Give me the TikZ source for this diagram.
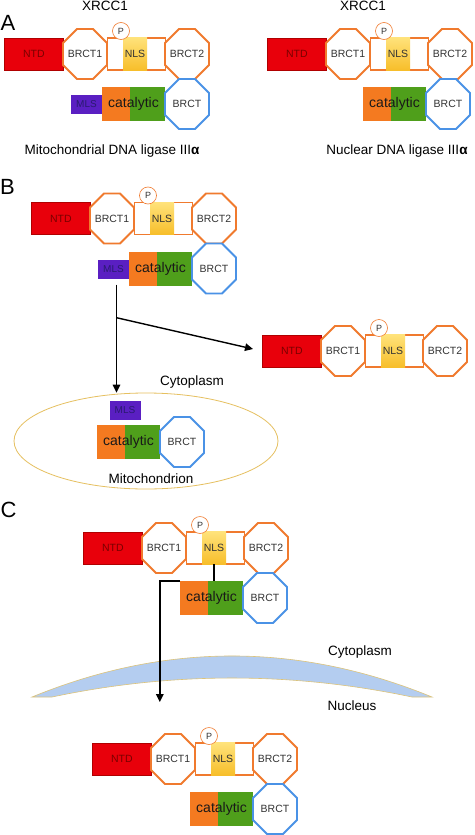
\documentclass[tikz,border=0pt]{standalone}
\usepackage{fontspec}
\setmainfont{Liberation Sans}
\usetikzlibrary{arrows.meta,shapes.geometric}
\definecolor{ntdred}{HTML}{E8000B}
\definecolor{ntdedge}{HTML}{B00000}
\definecolor{ntdtext}{HTML}{7A0000}
\definecolor{octor}{HTML}{F07A2E}
\definecolor{octbl}{HTML}{4A92E6}
\definecolor{nlsL}{HTML}{FFE27A}
\definecolor{nlsD}{HTML}{F7BE2A}
\definecolor{catO}{HTML}{F47A20}
\definecolor{catG}{HTML}{4F9F1B}
\definecolor{mlsP}{HTML}{5A1FC2}
\definecolor{mlstext}{HTML}{2A1A70}
\definecolor{mitoedge}{HTML}{E6C060}
\definecolor{membblue}{HTML}{B4CDF0}
\definecolor{membedge}{HTML}{DCC37A}
\definecolor{txtgray}{HTML}{333333}
\tikzset{
  lbl/.style={inner sep=0pt, font=\fontsize{10.5}{12}\selectfont, text=txtgray},
  biglbl/.style={inner sep=0pt, anchor=base, font=\fontsize{13.5}{15}\selectfont, text=black},
  panel/.style={inner sep=0pt, anchor=base, font=\fontsize{22}{24}\selectfont, text=black},
  ntdbox/.style={rectangle, fill=ntdred, draw=ntdedge, line width=0.8pt, minimum width=59pt, minimum height=32pt, inner sep=0pt, anchor=west, font=\fontsize{10.5}{12}\selectfont, text=ntdtext},
  linkbox/.style={rectangle, fill=white, draw=octor, line width=1.3pt, minimum width=58pt, minimum height=32pt, inner sep=0pt, anchor=west},
  nlsbox/.style={rectangle, top color=nlsL, bottom color=nlsD, minimum width=24pt, minimum height=32.5pt, inner sep=0pt, font=\fontsize{10.5}{12}\selectfont, text=txtgray},
  pcirc/.style={circle, fill=white, draw=octor, line width=0.6pt, minimum size=17pt, inner sep=0pt, font=\fontsize{9}{10}\selectfont, text=txtgray},
  cator/.style={rectangle, fill=catO, minimum width=28pt, minimum height=34pt, inner sep=0pt, anchor=west},
  catgr/.style={rectangle, fill=catG, minimum width=35pt, minimum height=34pt, inner sep=0pt, anchor=west},
  cattxt/.style={rectangle, minimum width=63pt, minimum height=34pt, inner sep=0pt, font=\fontsize{14}{16}\selectfont, text=black!90},
  mlsbox/.style={rectangle, fill=mlsP, minimum width=31pt, minimum height=19pt, inner sep=0pt, font=\fontsize{10}{11}\selectfont, text=mlstext},
  conn/.style={line width=1.4pt, -{Triangle[length=8pt,width=7.5pt]}},
  plain/.style={line width=1.4pt}
}
% octagon: name, centre, colour, text
\newcommand\octo[4]{%
  \path (#2) coordinate (#1c);
  \draw[line width=1.8pt, draw=#3, fill=white, line join=miter] (#1c) ++(-22,-11) -- ++(0,22) -- ++(14,14) -- ++(16,0) -- ++(14,-14) -- ++(0,-22) -- ++(-14,-14) -- ++(-16,0) -- cycle;
  \node[lbl] (#1) at (#1c) {#4};
}
% XRCC1: prefix, x0, yc
\newcommand\xrcc[3]{%
  \node[ntdbox] (#1ntd) at (#2,#3) {NTD};
  \octo{#1bone}{#2+81,#3}{octor}{BRCT1}
  \node[linkbox] (#1lk) at (#2+103,#3) {};
  \node[nlsbox] (#1nls) at (#2+131,#3) {NLS};
  \node[pcirc] (#1p) at (#2+117,#3-23) {P};
  \octo{#1btwo}{#2+183,#3}{octor}{BRCT2}
}
% ligase: prefix, x0, yc
\newcommand\catal[3]{%
  \node[cator] (#1co) at (#2+98,#3+50) {};
  \node[catgr] (#1cg) at (#2+126,#3+50) {};
  \node[cattxt] (#1cat) at (#2+129.5,#3+50) {catalytic};
  \octo{#1bb}{#2+183,#3+50}{octbl}{BRCT}
}
\begin{document}
\begin{tikzpicture}[x=1pt,y=-1pt]
\useasboundingbox (0,0) rectangle (474,835);
\fill[white] (0,0) rectangle (474,835);
% ---------- Panel A
\node[panel] (pA) at (8,30) {A};
\node[biglbl] (xa1) at (105,10.5) {XRCC1};
\node[biglbl] (xa2) at (363,10.5) {XRCC1};
\xrcc{AL}{4}{54}
\catal{AL}{4}{54}
\node[mlsbox] (ALmls) at (4+82.5,54+50.5) {MLS};
\node[biglbl] (mtlab) at (112,154.5) {Mitochondrial DNA ligase III\textbf{α}};
\xrcc{AR}{267}{54}
\catal{AR}{265}{54}
\node[biglbl] (nulab) at (397,154.5) {Nuclear DNA ligase III\textbf{α}};
% ---------- Panel B
\node[panel] (pB) at (7.5,194) {B};
\xrcc{B}{31}{218.5}
\catal{B}{31}{218.5}
\node[mlsbox] (Bmls) at (31+82.5,218.5+50.5) {MLS};
\xrcc{BR}{262}{351}
\node[biglbl] (cyB) at (192,385.5) {Cytoplasm};
\node[ellipse, draw=mitoedge, line width=0.8pt, fill=white, minimum width=264pt, minimum height=96pt, inner sep=0pt] (mito) at (146,441) {};
\node[mlsbox] (Mmls) at (125,410.5) {MLS};
\catal{M}{-1}{392}
\node[biglbl] (mitolab) at (151,483) {Mitochondrion};
\coordinate (bstart) at ([xshift=3pt,yshift=-6pt]Bmls.south);
\path (bstart) ++(0,33) coordinate (bbranch);
\draw[conn] (bstart) -- (bstart |- mito.north);
\draw[conn] (bbranch) -- ([xshift=-9pt,yshift=2pt]BRntd.west);
% ---------- Panel C
\node[panel] (pC) at (8.5,517) {C};
\xrcc{C}{83}{548}
\catal{C}{82}{548}
\draw[plain] (Cnls.south) -- (Cnls.south |- Ccat.north);
\node[biglbl] (cyC) at (360,655) {Cytoplasm};
\draw[draw=membedge, fill=membblue, line width=0.6pt] (32,697) .. controls (165.3,642.3) and (298.7,642.3) .. (432,697) -- (412,697) .. controls (292,671.7) and (172,671.7) .. (52,697) -- cycle;
\node[biglbl] (nuC) at (352,710) {Nucleus};
\coordinate (ctip) at (160,702);
\draw[conn] (Ccat.north west) -- ++(-20,0) coordinate (cbend) -- (cbend |- ctip);
\xrcc{D}{92}{759}
\catal{D}{92}{759}
\end{tikzpicture}
\end{document}
